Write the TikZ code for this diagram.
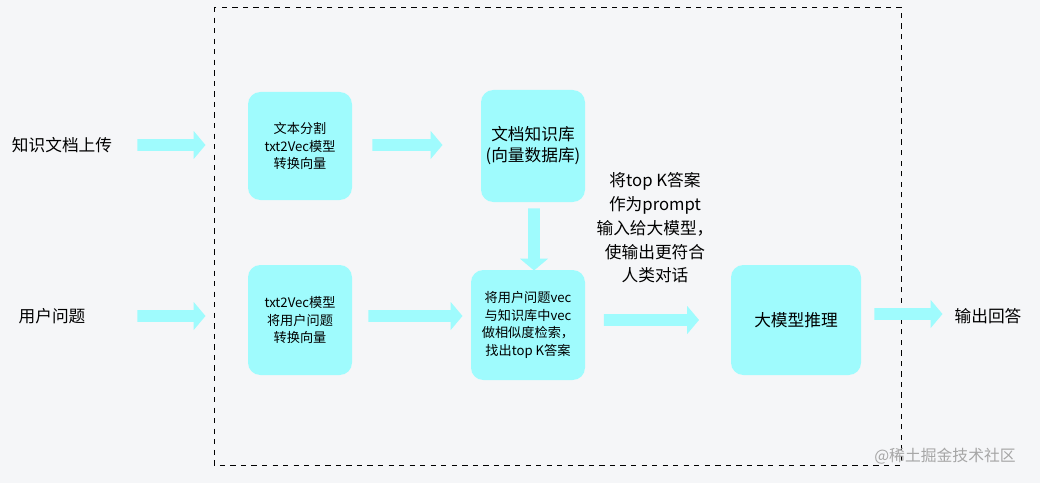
\documentclass[tikz,border=0pt]{standalone}
\usepackage{fontspec}
\setmainfont{Noto Sans CJK SC}
\usetikzlibrary{shapes.arrows}
\definecolor{bg}{HTML}{F5F6F8}
\definecolor{cy}{HTML}{9FFBFD}
\begin{document}
\begin{tikzpicture}[x=0.02cm,y=-0.02cm,
  box/.style={draw=none,fill=cy,rounded corners=7pt,align=center,inner sep=0pt},
  blk/.style={single arrow,fill=cy,draw=none,minimum height=#1*0.02cm,minimum width=28*0.02cm,single arrow head extend=0.12cm,single arrow tip angle=100,inner sep=0pt,text height=0.16cm},
  lab/.style={font=\fontsize{9.5}{12}\selectfont,align=center}]
\fill[bg] (0,0) rectangle (1040,483);
\useasboundingbox (0,0) rectangle (1040,483);
\draw[dashed,black] (214,7) rectangle (901,465);
\node[box,minimum width=104*0.02cm,minimum height=108*0.02cm,font=\fontsize{7.5}{10}\selectfont] (b1) at (300,146) {文本分割\\txt2Vec模型\\转换向量};
\node[box,minimum width=104*0.02cm,minimum height=112*0.02cm,font=\fontsize{9.5}{12}\selectfont] (b2) at (533,146) {文档知识库\\(向量数据库)};
\node[box,minimum width=104*0.02cm,minimum height=110*0.02cm,font=\fontsize{7.5}{10}\selectfont] (b3) at (300,320) {txt2Vec模型\\将用户问题\\转换向量};
\node[box,minimum width=114*0.02cm,minimum height=110*0.02cm,font=\fontsize{7.5}{10}\selectfont] (b4) at (528,325) {将用户问题vec\\与知识库中vec\\做相似度检索，\\找出top K答案};
\node[box,minimum width=130*0.02cm,minimum height=110*0.02cm,font=\fontsize{9.5}{12}\selectfont] (b5) at (796,320) {大模型推理};
\node[blk=68] (a1) at (169,145) {};
\node[blk=70] (a2) at (405,145) {};
\node[blk=62,rotate=-90] (a3) at (534,237) {};
\node[blk=68] (a4) at (169,316) {};
\node[blk=94] (a5) at (413,316) {};
\node[blk=95] (a6) at (649,320) {};
\node[blk=68] (a7) at (906,314) {};
\node[lab] (t1) at (62,145) {知识文档上传};
\node[lab] (t2) at (52,316) {用户问题};
\node[lab] (t3) at (988,316) {输出回答};
\node[lab,font=\fontsize{9.5}{13.5}\selectfont] (t4) at (655,228) {将top K答案\\作为prompt\\输入给大模型，\\使输出更符合\\人类对话};
\node[font=\fontsize{9}{11}\selectfont,text=gray!70] (wm) at (945,456) {@稀土掘金技术社区};
\end{tikzpicture}
\end{document}
